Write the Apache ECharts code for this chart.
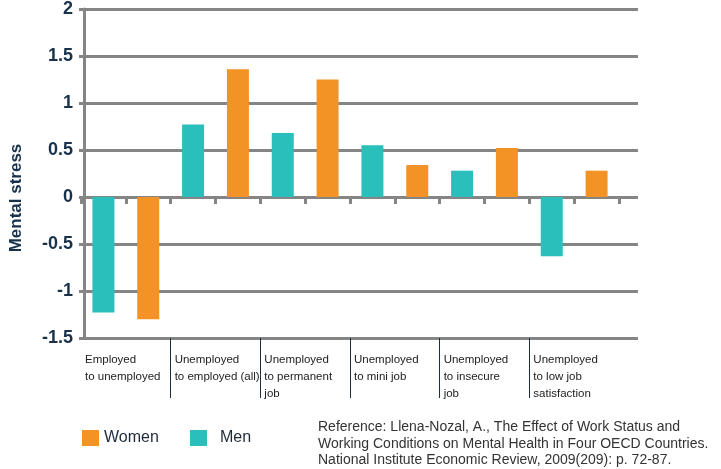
<!DOCTYPE html>
<html>
<head>
<meta charset="utf-8">
<title>Mental stress</title>
<script src="https://cdn.jsdelivr.net/npm/echarts@6/dist/echarts.min.js"></script>
<style>
html, body { margin: 0; background: #fff; }
#main { width: 721px; height: 469px; }
</style>
</head>
<body>
<div id="main"></div>
<script>
// categories along the bottom
var categories = ['Employed\nto unemployed', 'Unemployed\nto employed (all)', 'Unemployed\nto permanent\njob',
  'Unemployed\nto mini job', 'Unemployed\nto insecure\njob', 'Unemployed\nto low job\nsatisfaction'];
var men = [-1.23, 0.77, 0.68, 0.55, 0.28, -0.63];
var women = [-1.3, 1.36, 1.25, 0.34, 0.52, 0.28];
var yTicks = [-1.5, -1, -0.5, 0, 0.5, 1, 1.5, 2];
var source = 'Reference: Llena-Nozal, A., The Effect of Work Status and\n' +
  'Working Conditions on Mental Health in Four OECD Countries.\n' +
  'National Institute Economic Review, 2009(209): p. 72-87.';

var gray = '#858585';
var navy = '#17324a';
var font = "'Liberation Sans', Arial, sans-serif";

// every category gets two slots: men then women
var slots = [], menSlots = [], womenSlots = [];
categories.forEach(function (c, i) {
  slots.push(c + ' Men', c + ' Women');
  menSlots.push(men[i], null);
  womenSlots.push(null, women[i]);
});
var catIdx = categories.map(function (c, i) { return i; });

var chart = echarts.init(document.getElementById('main'));
chart.setOption({
  animation: false,
  textStyle: { fontFamily: font },
  title: {
    text: source,
    left: 313,
    top: 414,
    textStyle: { fontSize: 14, fontWeight: 'normal', color: '#333', lineHeight: 16.5, fontFamily: font }
  },
  legend: [{
    data: ['Women'],
    left: 77, top: 425,
    icon: 'rect', itemWidth: 17, itemHeight: 16,
    textStyle: { fontSize: 16, color: '#1e2b3a' }
  }, {
    data: ['Men'],
    left: 185, top: 425,
    icon: 'rect', itemWidth: 17, itemHeight: 16,
    textStyle: { fontSize: 16, color: '#1e2b3a', padding: [0, 0, 0, 8] }
  }],
  grid: [
    { left: 81, right: 83, top: 9, bottom: 131 },
    { left: 81, right: 102, top: 9, bottom: 131 }
  ],
  xAxis: [{
    gridIndex: 0, type: 'value', min: 0, max: 1, show: false
  }, {
    gridIndex: 1,
    type: 'category',
    data: slots,
    axisLine: { onZero: true, lineStyle: { color: gray, width: 3 } },
    axisTick: { show: true, interval: 0, length: 7, lineStyle: { color: gray, width: 3 } },
    axisLabel: { show: false, interval: 0 },
    splitLine: { show: false }
  }, {
    gridIndex: 1,
    type: 'value',
    position: 'bottom',
    min: 0,
    max: categories.length,
    axisLine: { show: false, onZero: false },
    splitLine: { show: false },
    axisTick: { show: true, customValues: catIdx.slice(1), length: 60, lineStyle: { color: '#1b2e40', width: 1 } },
    axisLabel: {
      customValues: catIdx,
      formatter: function (v) { return categories[v]; },
      align: 'left',
      padding: [0, 0, 0, 4],
      margin: 13,
      fontSize: 11.5,
      lineHeight: 17,
      color: '#222'
    }
  }],
  yAxis: [{
    gridIndex: 0,
    type: 'value',
    min: yTicks[0],
    max: yTicks[yTicks.length - 1],
    interval: 0.5,
    name: 'Mental stress',
    nameLocation: 'middle',
    nameGap: 59,
    nameTextStyle: { fontSize: 17, fontWeight: 'bold', color: navy, padding: [0, 49, 0, 0] },
    axisLine: { show: true, lineStyle: { color: gray, width: 3 } },
    axisTick: { show: true, length: 5, lineStyle: { color: gray, width: 3 } },
    axisLabel: { margin: 11, fontSize: 18, fontWeight: 'bold', color: navy },
    splitLine: { lineStyle: { color: gray, width: 3 } }
  }, {
    gridIndex: 1,
    type: 'value',
    min: yTicks[0],
    max: yTicks[yTicks.length - 1],
    interval: 0.5,
    show: false
  }],
  series: [{
    name: 'Men',
    type: 'bar',
    xAxisIndex: 1, yAxisIndex: 1,
    data: menSlots,
    barWidth: 22,
    barGap: '-100%',
    itemStyle: { color: '#2abfba' }
  }, {
    name: 'Women',
    type: 'bar',
    xAxisIndex: 1, yAxisIndex: 1,
    data: womenSlots,
    barWidth: 22,
    barGap: '-100%',
    itemStyle: { color: '#f39325' }
  }]
});
</script>
</body>
</html>
